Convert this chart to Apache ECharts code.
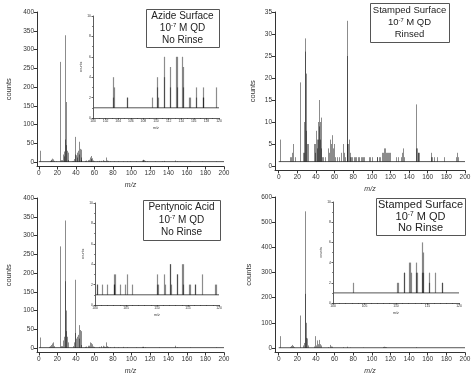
<!DOCTYPE html>
<html><head><meta charset="utf-8">
<script src="https://cdn.jsdelivr.net/npm/echarts@6/dist/echarts.min.js"></script>
<style>html,body{margin:0;padding:0;background:#fff}#c{width:474px;height:375px}</style>
</head><body><div id="c"></div>
<script>
// ---------- tick labels ----------
const xTicks = [0,20,40,60,80,100,120,140,160,180,200];
const yTicksAzide = [0,50,100,150,200,250,300,350,400];
const yTicksRinsed = [0,5,10,15,20,25,30,35];
const yTicksPentynoic = [0,50,100,150,200,250,300,350,400];
const yTicksStamped = [0,100,200,300,400,500,600];
const BASE = 1; // spectra baseline (counts)

// ---------- data: [m/z, counts] ----------
const azideMain = [[1,30],[12,3],[13,6],[13.5,4],[14,9],[15,7],[16,3],[18,2],[23,267],[24,5],[25,5],[26,20],[27,28],[27.5,15],[28,338],[28.4,60],[29,160],[29.3,45],[30,30],[31,25],[32,5],[36,2],[37,3],[38,8],[39,67],[39.4,20],[40,18],[41,25],[41.5,12],[42,30],[43,54],[43.4,20],[44,35],[45,33],[45.4,12],[46,5],[50,3],[51,4],[53,5],[54,6],[55,12],[56,16],[56.4,8],[57,10],[58,4],[60,2],[63,2],[65,3],[67,3],[69,5],[70,3],[71,2],[73,12],[74,4],[75,3],[77,2],[81,2],[86,2],[91,2],[95,2],[98,2],[105,2],[111,4],[112,5],[113,6],[114,5],[115,3],[117,2],[126,2],[133,2],[135,3],[147,4],[149,2],[163,2],[176,2],[191,2]];
const azideInset = [[103.2,4],[103.35,3],[103.25,2],[105.4,2],[105.45,2],[109.4,2],[110.15,4],[110.2,3],[110.35,2],[111.25,6],[111.3,4],[112.25,5],[112.3,3],[113.25,6],[113.3,6],[113.35,3],[114.2,6],[114.25,3],[114.3,5],[115.3,2],[115.35,2],[116.3,3],[116.35,2],[117.4,3],[117.42,2],[117.45,2],[119.5,3]];

const rinsedMain = [[1,6],[12,2],[13,2],[14,3],[15,5],[18,2],[23,19],[26,3],[27,10],[27.3,3],[28,29],[28.3,26],[29,21],[29.3,8],[30,5],[31,5],[38,5],[39,5],[39.4,3],[40,8],[41,6],[41.3,4],[42,10],[42.5,6],[43,15],[43.3,9],[44,10],[44.4,6],[45,11],[45.4,4],[46,2],[48,2],[50,2],[53,4],[54,3],[55,6],[56,5],[57,7],[58,4],[59,5],[60,2],[63,2],[65,2],[67,3],[69,5],[70,3],[71,2],[73,33],[73.2,25],[73.4,5],[74,5],[75,6],[76,3],[77,2],[78,2],[79,2],[81,2],[82,2],[83,2],[85,2],[86,2],[88,2],[89,2],[91,2],[92,2],[97,2],[98,2],[100,2],[105,2],[106,2],[108,2],[109,2],[111,3],[112,3],[113,4],[114,4],[115,3],[116,3],[117,3],[118,3],[119,3],[126,2],[128,2],[131,2],[132,3],[133,4],[135,2],[147,14],[147.3,4],[148,4],[149,3],[150,3],[151,3],[163,3],[164,2],[165,2],[167,2],[170,2],[177,2],[190,2],[191,3],[193,2]];

const pentynoicMain = [[1,28],[11,3],[12,5],[13,8],[14,12],[15,15],[16,5],[23,271],[24,5],[25,5],[26,20],[27,30],[28,340],[28.3,178],[29,100],[29.3,45],[30,30],[31,15],[37,5],[38,15],[39,182],[39.3,40],[40,25],[41,30],[42,35],[43,61],[43.4,25],[44,48],[45,45],[46,8],[50,3],[51,4],[53,6],[54,6],[55,15],[56,13],[57,10],[58,4],[60,3],[65,3],[67,5],[69,6],[70,4],[71,3],[73,15],[74,5],[75,3],[77,2],[81,3],[85,2],[91,3],[95,2],[105,2],[111,3],[112,3],[113,3],[115,2],[130,2],[147,6],[149,2],[163,2],[191,2]];
const pentynoicInset = [[100.3,2],[100.35,2],[101.1,2],[102.0,2],[103.0,3],[103.05,2],[103.1,2],[103.25,3],[104.0,2],[104.9,2],[105.2,3],[106.0,2],[110.0,3],[110.05,2],[110.1,2],[111.2,3],[111.25,2],[112.1,4],[112.15,4],[112.2,2],[113.2,3],[113.25,3],[114.1,4],[114.15,4],[114.2,2],[115.2,2],[115.25,2],[116.1,2],[116.2,2],[117.3,3],[119.4,2],[119.45,2]];

const stampedMain = [[1,47],[12,4],[13,8],[14,12],[15,8],[16,3],[23,129],[26,10],[27,20],[28,543],[28.3,215],[29,100],[29.3,40],[30,38],[31,10],[38,6],[39,47],[40,10],[41,30],[42,15],[43,32],[44,15],[45,10],[53,3],[55,12],[56,6],[57,5],[69,3],[73,5],[77,2],[91,2],[112,4],[113,5],[114,4],[115,3],[147,3]];
const stampedInset = [[103.1,2],[110.1,2],[110.3,2],[111.2,3],[111.25,3],[112.1,4],[112.15,4],[112.4,3],[113.2,4],[113.25,3],[113.3,3],[114.1,6],[114.3,5],[114.2,3],[114.25,3],[115.2,3],[115.25,2],[116.2,3],[117.3,2],[117.35,2]];

const FONT = 'Liberation Sans, Arial, sans-serif';
const AX = '#333';

function impulse(color, width){
  return function(params, api){
    const x = api.value(0), h = api.value(1);
    const a = api.coord([x, BASE]);
    const b = api.coord([x, h]);
    const px = Math.round(a[0]) + 0.5;
    return {type:'line', shape:{x1:px, y1:a[1], x2:px, y2:b[1]}, style:{stroke:color, lineWidth:width}};
  };
}

function mainX(gi, min){
  return {gridIndex:gi, type:'value', min:min, max:200,
    axisLine:{show:true, onZero:false, lineStyle:{color:AX, width:1}},
    axisTick:{show:true, customValues:xTicks, length:3, lineStyle:{color:AX}},
    axisLabel:{customValues:xTicks, fontSize:6.5, color:AX, margin:3, fontFamily:FONT},
    splitLine:{show:false},
    name:'m/z', nameLocation:'middle', nameGap:15,
    nameTextStyle:{fontStyle:'italic', fontSize:7, color:AX, fontFamily:FONT}};
}
function mainY(gi, min, max, ticks, gap){
  return {gridIndex:gi, type:'value', min:min, max:max,
    axisLine:{show:true, onZero:false, lineStyle:{color:AX, width:1}},
    axisTick:{show:true, customValues:ticks, length:3, lineStyle:{color:AX}},
    axisLabel:{customValues:ticks, fontSize:6.5, color:AX, margin:3, fontFamily:FONT},
    splitLine:{show:false},
    name:'counts', nameLocation:'middle', nameGap:gap, nameRotate:90,
    nameTextStyle:{fontSize:7.5, color:AX, fontFamily:FONT}};
}
function insetX(gi, interval){
  return {gridIndex:gi, type:'value', min:100, max:120, interval:interval,
    axisLine:{show:true, onZero:false, lineStyle:{color:AX, width:0.8}},
    axisTick:{show:true, length:1.5, lineStyle:{color:AX, width:0.8}},
    minorTick:{show:true, splitNumber:interval, length:1, lineStyle:{color:AX, width:0.6}},
    axisLabel:{fontSize:3.4, color:AX, margin:2, fontFamily:FONT},
    splitLine:{show:false},
    name:'m/z', nameLocation:'middle', nameGap:8,
    nameTextStyle:{fontStyle:'italic', fontSize:3.6, color:AX, fontFamily:FONT}};
}
function insetY(gi){
  return {gridIndex:gi, type:'value', min:0, max:10, interval:2,
    axisLine:{show:true, onZero:false, lineStyle:{color:AX, width:0.8}},
    axisTick:{show:true, length:1.5, lineStyle:{color:AX, width:0.8}},
    minorTick:{show:true, splitNumber:2, length:1, lineStyle:{color:AX, width:0.6}},
    axisLabel:{fontSize:3.4, color:AX, margin:2, fontFamily:FONT},
    splitLine:{show:false},
    name:'counts', nameLocation:'middle', nameGap:9, nameRotate:90,
    nameTextStyle:{fontSize:3.6, color:AX, fontFamily:FONT}};
}

const grids = [
  {left:37, top:12, width:187, height:154.5},   // 0 azide main
  {left:275, top:12, width:190, height:158.4},  // 1 rinsed main
  {left:37, top:198, width:187, height:154.5},  // 2 pentynoic main
  {left:275, top:197, width:190, height:155.5}, // 3 stamped main
  {left:93, top:16, width:126, height:102},     // 4 azide inset
  {left:95, top:203, width:124, height:102},    // 5 pentynoic inset
  {left:333, top:202, width:126, height:101}    // 6 stamped inset
].map(g => Object.assign({outerBoundsMode:'none', containLabel:false}, g));

const xAxes = [mainX(0,-2), mainX(1,-4), mainX(2,-2), mainX(3,-4), insetX(4,2), insetX(5,5), insetX(6,5)];
const yAxes = [mainY(0,-12,400,yTicksAzide,24), mainY(1,-1,35,yTicksRinsed,18), mainY(2,-12,400,yTicksPentynoic,24), mainY(3,-18,600,yTicksStamped,22), insetY(4), insetY(5), insetY(6)];

const MAINC = 'rgba(0,0,0,0.45)';
const INSC = 'rgba(0,0,0,0.45)';
function spec(i, data, color, w){
  return {type:'custom', xAxisIndex:i, yAxisIndex:i, data:data, renderItem:impulse(color,w), silent:true, animation:false, z:3};
}
function baseLine(i, x0, x1){
  return {type:'line', xAxisIndex:i, yAxisIndex:i, data:[[x0,BASE],[x1,BASE]], symbol:'none', silent:true, animation:false,
    lineStyle:{color:'#555', width:1}, z:2};
}

const series = [
  baseLine(0,0,200), spec(0, azideMain, MAINC, 1),
  baseLine(1,0,200), spec(1, rinsedMain, MAINC, 1),
  baseLine(2,0,200), spec(2, pentynoicMain, MAINC, 1),
  baseLine(3,0,200), spec(3, stampedMain, MAINC, 1),
  baseLine(4,100,120), spec(4, azideInset, INSC, 1.2),
  baseLine(5,100,120), spec(5, pentynoicInset, INSC, 1.2),
  baseLine(6,100,120), spec(6, stampedInset, INSC, 1.2)
];

function box(x, y, w, h, lines, fs){
  const cx = x + w/2, lh = h/3.2, y0 = y + h/2 - lh;
  const txt = (t, yy) => ({type:'text', x:cx, y:yy, style:{text:t, fontSize:fs, fontFamily:FONT, fill:'#222', align:'center', verticalAlign:'middle',
      rich:{sup:{fontSize:fs*0.6, fontFamily:FONT, fill:'#222', verticalAlign:'top', padding:[0,0,fs*0.45,0]}, n:{fontSize:fs, fontFamily:FONT, fill:'#222'}}}});
  return {type:'group', z:10, children:[
    {type:'rect', shape:{x:x+0.5, y:y+0.5, width:w, height:h}, style:{fill:'#fff', stroke:'#555', lineWidth:1}},
    txt(lines[0], y0), txt(lines[1], y0+lh), txt(lines[2], y0+2*lh)
  ]};
}
const QD = '{n|10}{sup|-7}{n| M QD}';

const chart = echarts.init(document.getElementById('c'), null, {renderer:'canvas'});
chart.setOption({
  animation:false,
  backgroundColor:'#fff',
  grid:grids, xAxis:xAxes, yAxis:yAxes, series:series,
  graphic:[
    box(146, 9, 73, 38, ['Azide Surface', QD, 'No Rinse'], 10),
    box(370, 3, 79, 39, ['Stamped Surface', QD, 'Rinsed'], 9.5),
    box(143, 200, 77, 40, ['Pentynoic Acid', QD, 'No Rinse'], 10),
    box(376, 198, 89, 37, ['Stamped Surface', QD, 'No Rinse'], 11)
  ]
});
</script></body></html>
